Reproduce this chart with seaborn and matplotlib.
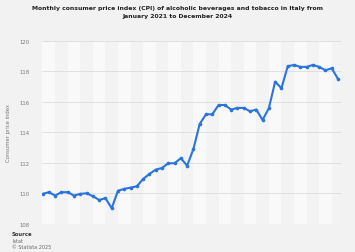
import numpy as np
import pandas as pd
import matplotlib.pyplot as plt
import seaborn as sns

months = pd.date_range("2021-01-01", "2024-12-01", freq="MS").strftime("%b %Y").tolist()
cpi = [
    109.97, 110.08, 109.86, 110.08, 110.08, 109.86, 109.97, 110.01, 109.82, 109.57, 109.69, 109.03,
    110.18, 110.30, 110.38, 110.47, 110.95, 111.28, 111.56, 111.67, 111.98, 111.98, 112.31, 111.82,
    112.92, 114.56, 115.19, 115.19, 115.80, 115.80, 115.50, 115.61, 115.61, 115.39, 115.50, 114.82,
    115.59, 117.33, 116.90, 118.34, 118.43, 118.30, 118.30, 118.43, 118.30, 118.08, 118.21, 117.51,
]
yticks = [108, 110, 112, 114, 116, 118, 120]

df = pd.DataFrame({"month": months, "pos": np.arange(len(months)), "cpi": cpi})

sns.set_style("white")
fig = plt.figure(figsize=(3.55, 2.53), dpi=100)
fig.patch.set_facecolor("#f2f2f2")
ax = fig.add_axes([0.119, 0.111, 0.842, 0.723])
ax.set_facecolor("#f9f9f9")

# alternating bands, two months wide
for start in range(2, len(months), 4):
    ax.axvspan(start, start + 2, color="#f3f3f3", zorder=0, lw=0)

sns.lineplot(data=df, x="pos", y="cpi", ax=ax, color="#2a74dc", linewidth=1.5,
             marker="o", markersize=2.6, markeredgewidth=0, zorder=3)

ax.set_xlim(-0.05, 47.5)
ax.set_ylim(108, 120)
ax.set_yticks(yticks)
ax.set_yticklabels([str(t) for t in yticks], fontsize=3.8, color="#777777")
ax.set_xticks([])
ax.tick_params(axis="y", length=0, pad=9)
ax.grid(axis="y", color="#dcdcdc", linewidth=0.6)
ax.set_axisbelow(True)
for s in ax.spines.values():
    s.set_visible(False)
ax.set_xlabel("")
ax.set_ylabel("Consumer price index", fontsize=3.8, color="#777777", labelpad=6)

fig.text(0.5, 0.95, "Monthly consumer price index (CPI) of alcoholic beverages and tobacco in Italy from\nJanuary 2021 to December 2024",
         ha="center", va="center", fontsize=4.4, fontweight="bold", color="#222222", linespacing=1.75)

fig.text(0.034, 0.072, "Source", fontsize=3.8, fontweight="bold", color="#333333", va="center")
fig.text(0.034, 0.046, "Istat", fontsize=3.5, color="#666666", va="center")
fig.text(0.034, 0.020, "© Statista 2025", fontsize=3.5, color="#666666", va="center")

fig.savefig("out.png", dpi=100, facecolor=fig.get_facecolor())
